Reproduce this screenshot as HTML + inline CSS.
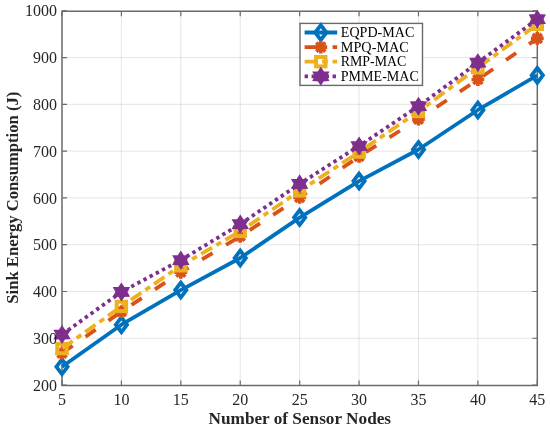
<!DOCTYPE html><html><head><meta charset="utf-8"><style>html,body{margin:0;padding:0;background:#fff;width:550px;height:432px;overflow:hidden}svg{display:block}</style></head><body><svg width="550" height="432" viewBox="0 0 550 432">
<rect width="550" height="432" fill="#fff"/>
<path d="M121.41 11.25V385.5M180.82 11.25V385.5M240.24 11.25V385.5M299.65 11.25V385.5M359.06 11.25V385.5M418.47 11.25V385.5M477.89 11.25V385.5" stroke="#262626" stroke-opacity="0.12" stroke-width="1" fill="none"/>
<path d="M62.0 338.27H537.3M62.0 291.49H537.3M62.0 244.71H537.3M62.0 197.93H537.3M62.0 151.14H537.3M62.0 104.36H537.3M62.0 57.58H537.3" stroke="#262626" stroke-opacity="0.12" stroke-width="1" fill="none"/>
<rect x="62.0" y="11.25" width="475.30" height="374.25" fill="none" stroke="#6a6a6a" stroke-width="1.5"/>
<path d="M62.00 385.5v-5M62.00 11.25v5M121.41 385.5v-5M121.41 11.25v5M180.82 385.5v-5M180.82 11.25v5M240.24 385.5v-5M240.24 11.25v5M299.65 385.5v-5M299.65 11.25v5M359.06 385.5v-5M359.06 11.25v5M418.47 385.5v-5M418.47 11.25v5M477.89 385.5v-5M477.89 11.25v5M537.30 385.5v-5M537.30 11.25v5M62.0 385.05h5M537.3 385.05h-5M62.0 338.27h5M537.3 338.27h-5M62.0 291.49h5M537.3 291.49h-5M62.0 244.71h5M537.3 244.71h-5M62.0 197.93h5M537.3 197.93h-5M62.0 151.14h5M537.3 151.14h-5M62.0 104.36h5M537.3 104.36h-5M62.0 57.58h5M537.3 57.58h-5M62.0 10.80h5M537.3 10.80h-5" stroke="#6a6a6a" stroke-width="1.2" fill="none"/>
<polyline points="62.00,366.79 121.41,324.68 180.82,290.07 240.24,258.02 299.65,217.56 359.06,181.07 418.47,149.49 477.89,109.96 537.30,75.34" fill="none" stroke="#0072BD" stroke-width="3.8" stroke-linejoin="round"/>
<path d="M62.00 359.39L67.60 366.79L62.00 374.19L56.40 366.79Z" fill="none" stroke="#0072BD" stroke-width="3.8"/>
<path d="M121.41 317.28L127.01 324.68L121.41 332.08L115.81 324.68Z" fill="none" stroke="#0072BD" stroke-width="3.8"/>
<path d="M180.82 282.67L186.42 290.07L180.82 297.47L175.22 290.07Z" fill="none" stroke="#0072BD" stroke-width="3.8"/>
<path d="M240.24 250.62L245.84 258.02L240.24 265.42L234.64 258.02Z" fill="none" stroke="#0072BD" stroke-width="3.8"/>
<path d="M299.65 210.16L305.25 217.56L299.65 224.96L294.05 217.56Z" fill="none" stroke="#0072BD" stroke-width="3.8"/>
<path d="M359.06 173.67L364.66 181.07L359.06 188.47L353.46 181.07Z" fill="none" stroke="#0072BD" stroke-width="3.8"/>
<path d="M418.47 142.09L424.07 149.49L418.47 156.89L412.87 149.49Z" fill="none" stroke="#0072BD" stroke-width="3.8"/>
<path d="M477.89 102.56L483.49 109.96L477.89 117.36L472.29 109.96Z" fill="none" stroke="#0072BD" stroke-width="3.8"/>
<path d="M537.30 67.94L542.90 75.34L537.30 82.74L531.70 75.34Z" fill="none" stroke="#0072BD" stroke-width="3.8"/>
<polyline points="62.00,353.22 121.41,311.59 180.82,272.29 240.24,236.27 299.65,197.44 359.06,156.46 418.47,119.08 477.89,79.55 537.30,38.38" fill="none" stroke="#D95319" stroke-width="3.8" stroke-linejoin="round" stroke-dasharray="12.3 15.67" stroke-dashoffset="-0.8"/>
<path d="M55.60 353.22L68.40 353.22M57.47 348.70L66.53 357.75M62.00 346.82L62.00 359.62M66.53 348.70L57.47 357.75" fill="none" stroke="#D95319" stroke-width="3.6"/>
<path d="M115.01 311.59L127.81 311.59M116.89 307.06L125.94 316.11M121.41 305.19L121.41 317.99M125.94 307.06L116.89 316.11" fill="none" stroke="#D95319" stroke-width="3.6"/>
<path d="M174.42 272.29L187.22 272.29M176.30 267.76L185.35 276.81M180.82 265.89L180.82 278.69M185.35 267.76L176.30 276.81" fill="none" stroke="#D95319" stroke-width="3.6"/>
<path d="M233.84 236.27L246.64 236.27M235.71 231.74L244.76 240.79M240.24 229.87L240.24 242.67M244.76 231.74L235.71 240.79" fill="none" stroke="#D95319" stroke-width="3.6"/>
<path d="M293.25 197.44L306.05 197.44M295.12 192.91L304.18 201.96M299.65 191.04L299.65 203.84M304.18 192.91L295.12 201.96" fill="none" stroke="#D95319" stroke-width="3.6"/>
<path d="M352.66 156.46L365.46 156.46M354.54 151.93L363.59 160.98M359.06 150.06L359.06 162.86M363.59 151.93L354.54 160.98" fill="none" stroke="#D95319" stroke-width="3.6"/>
<path d="M412.07 119.08L424.87 119.08M413.95 114.56L423.00 123.61M418.47 112.68L418.47 125.48M423.00 114.56L413.95 123.61" fill="none" stroke="#D95319" stroke-width="3.6"/>
<path d="M471.49 79.55L484.29 79.55M473.36 75.03L482.41 84.08M477.89 73.15L477.89 85.95M482.41 75.03L473.36 84.08" fill="none" stroke="#D95319" stroke-width="3.6"/>
<path d="M530.90 38.38L543.70 38.38M532.77 33.86L541.83 42.91M537.30 31.98L537.30 44.78M541.83 33.86L532.77 42.91" fill="none" stroke="#D95319" stroke-width="3.6"/>
<polyline points="62.00,348.54 121.41,306.44 180.82,265.74 240.24,231.36 299.65,190.89 359.06,152.06 418.47,111.50 477.89,67.57 537.30,24.35" fill="none" stroke="#EDB120" stroke-width="3.8" stroke-linejoin="round" stroke-dasharray="12.6 4.9 5.6 4.87" stroke-dashoffset="-0.5"/>
<rect x="57.30" y="343.84" width="9.40" height="9.40" fill="none" stroke="#EDB120" stroke-width="4"/>
<rect x="116.71" y="301.74" width="9.40" height="9.40" fill="none" stroke="#EDB120" stroke-width="4"/>
<rect x="176.12" y="261.04" width="9.40" height="9.40" fill="none" stroke="#EDB120" stroke-width="4"/>
<rect x="235.54" y="226.66" width="9.40" height="9.40" fill="none" stroke="#EDB120" stroke-width="4"/>
<rect x="294.95" y="186.19" width="9.40" height="9.40" fill="none" stroke="#EDB120" stroke-width="4"/>
<rect x="354.36" y="147.36" width="9.40" height="9.40" fill="none" stroke="#EDB120" stroke-width="4"/>
<rect x="413.77" y="106.80" width="9.40" height="9.40" fill="none" stroke="#EDB120" stroke-width="4"/>
<rect x="473.19" y="62.87" width="9.40" height="9.40" fill="none" stroke="#EDB120" stroke-width="4"/>
<rect x="532.60" y="19.65" width="9.40" height="9.40" fill="none" stroke="#EDB120" stroke-width="4"/>
<polyline points="62.00,334.51 121.41,291.94 180.82,260.13 240.24,224.10 299.65,183.87 359.06,145.98 418.47,106.22 477.89,62.71 537.30,19.20" fill="none" stroke="#7E2F8E" stroke-width="3.8" stroke-linejoin="round" stroke-dasharray="3.4 3.5925" stroke-dashoffset="-0.3"/>
<path d="M62.00 328.51L60.09 331.36L56.54 331.51L58.18 334.51L56.54 337.51L60.09 337.66L62.00 340.51L63.91 337.66L67.46 337.51L65.82 334.51L67.46 331.51L63.91 331.36Z" fill="#7E2F8E" stroke="#7E2F8E" stroke-width="3.9"/>
<path d="M121.41 285.94L119.50 288.79L115.96 288.94L117.59 291.94L115.96 294.94L119.50 295.09L121.41 297.94L123.32 295.09L126.87 294.94L125.23 291.94L126.87 288.94L123.32 288.79Z" fill="#7E2F8E" stroke="#7E2F8E" stroke-width="3.9"/>
<path d="M180.82 254.13L178.92 256.98L175.37 257.13L177.01 260.13L175.37 263.13L178.92 263.28L180.82 266.13L182.73 263.28L186.28 263.13L184.64 260.13L186.28 257.13L182.73 256.98Z" fill="#7E2F8E" stroke="#7E2F8E" stroke-width="3.9"/>
<path d="M240.24 218.10L238.33 220.95L234.78 221.10L236.42 224.10L234.78 227.10L238.33 227.25L240.24 230.10L242.15 227.25L245.69 227.10L244.06 224.10L245.69 221.10L242.15 220.95Z" fill="#7E2F8E" stroke="#7E2F8E" stroke-width="3.9"/>
<path d="M299.65 177.87L297.74 180.72L294.19 180.87L295.83 183.87L294.19 186.87L297.74 187.02L299.65 189.87L301.56 187.02L305.11 186.87L303.47 183.87L305.11 180.87L301.56 180.72Z" fill="#7E2F8E" stroke="#7E2F8E" stroke-width="3.9"/>
<path d="M359.06 139.98L357.15 142.83L353.61 142.98L355.24 145.98L353.61 148.98L357.15 149.13L359.06 151.98L360.97 149.13L364.52 148.98L362.88 145.98L364.52 142.98L360.97 142.83Z" fill="#7E2F8E" stroke="#7E2F8E" stroke-width="3.9"/>
<path d="M418.47 100.22L416.57 103.07L413.02 103.22L414.66 106.22L413.02 109.22L416.57 109.37L418.47 112.22L420.38 109.37L423.93 109.22L422.29 106.22L423.93 103.22L420.38 103.07Z" fill="#7E2F8E" stroke="#7E2F8E" stroke-width="3.9"/>
<path d="M477.89 56.71L475.98 59.56L472.43 59.71L474.07 62.71L472.43 65.71L475.98 65.86L477.89 68.71L479.80 65.86L483.34 65.71L481.71 62.71L483.34 59.71L479.80 59.56Z" fill="#7E2F8E" stroke="#7E2F8E" stroke-width="3.9"/>
<path d="M537.30 13.20L535.39 16.05L531.84 16.20L533.48 19.20L531.84 22.20L535.39 22.35L537.30 25.20L539.21 22.35L542.76 22.20L541.12 19.20L542.76 16.20L539.21 16.05Z" fill="#7E2F8E" stroke="#7E2F8E" stroke-width="3.9"/>
<text x="62.00" y="405" font-family="Liberation Serif, serif" font-size="16" fill="#262626" text-anchor="middle">5</text>
<text x="121.41" y="405" font-family="Liberation Serif, serif" font-size="16" fill="#262626" text-anchor="middle">10</text>
<text x="180.82" y="405" font-family="Liberation Serif, serif" font-size="16" fill="#262626" text-anchor="middle">15</text>
<text x="240.24" y="405" font-family="Liberation Serif, serif" font-size="16" fill="#262626" text-anchor="middle">20</text>
<text x="299.65" y="405" font-family="Liberation Serif, serif" font-size="16" fill="#262626" text-anchor="middle">25</text>
<text x="359.06" y="405" font-family="Liberation Serif, serif" font-size="16" fill="#262626" text-anchor="middle">30</text>
<text x="418.47" y="405" font-family="Liberation Serif, serif" font-size="16" fill="#262626" text-anchor="middle">35</text>
<text x="477.89" y="405" font-family="Liberation Serif, serif" font-size="16" fill="#262626" text-anchor="middle">40</text>
<text x="537.30" y="405" font-family="Liberation Serif, serif" font-size="16" fill="#262626" text-anchor="middle">45</text>
<text x="57.1" y="390.70" font-family="Liberation Serif, serif" font-size="16" fill="#262626" text-anchor="end">200</text>
<text x="57.1" y="343.92" font-family="Liberation Serif, serif" font-size="16" fill="#262626" text-anchor="end">300</text>
<text x="57.1" y="297.14" font-family="Liberation Serif, serif" font-size="16" fill="#262626" text-anchor="end">400</text>
<text x="57.1" y="250.36" font-family="Liberation Serif, serif" font-size="16" fill="#262626" text-anchor="end">500</text>
<text x="57.1" y="203.57" font-family="Liberation Serif, serif" font-size="16" fill="#262626" text-anchor="end">600</text>
<text x="57.1" y="156.79" font-family="Liberation Serif, serif" font-size="16" fill="#262626" text-anchor="end">700</text>
<text x="57.1" y="110.01" font-family="Liberation Serif, serif" font-size="16" fill="#262626" text-anchor="end">800</text>
<text x="57.1" y="63.23" font-family="Liberation Serif, serif" font-size="16" fill="#262626" text-anchor="end">900</text>
<text x="57.1" y="16.45" font-family="Liberation Serif, serif" font-size="16" fill="#262626" text-anchor="end">1000</text>
<text x="299.8" y="424.2" font-family="Liberation Serif, serif" font-size="16.5" font-weight="bold" fill="#262626" text-anchor="middle" textLength="182.5" lengthAdjust="spacingAndGlyphs">Number of Sensor Nodes</text>
<text transform="translate(17.5 197.7) rotate(-90)" x="0" y="0" font-family="Liberation Serif, serif" font-size="16.5" font-weight="bold" fill="#262626" text-anchor="middle" textLength="212" lengthAdjust="spacingAndGlyphs">Sink Energy Consumption (J)</text>
<rect x="300" y="23.4" width="122.5" height="62.00000000000001" fill="#fff" stroke="#6a6a6a" stroke-width="1.4"/>
<path d="M304.6 32.5H337.2" stroke="#0072BD" stroke-width="3.8" fill="none"/>
<path d="M320.80 25.10L326.40 32.50L320.80 39.90L315.20 32.50Z" fill="none" stroke="#0072BD" stroke-width="3.8"/>
<text x="340.8" y="37.4" font-family="Liberation Serif, serif" font-size="14" fill="#000" textLength="73.5" lengthAdjust="spacingAndGlyphs">EQPD-MAC</text>
<path d="M304.6 47.1H337.2" stroke="#D95319" stroke-width="3.8" stroke-dasharray="12.3 15.67" fill="none"/>
<path d="M314.40 47.10L327.20 47.10M316.27 42.57L325.33 51.63M320.80 40.70L320.80 53.50M325.33 42.57L316.27 51.63" fill="none" stroke="#D95319" stroke-width="3.6"/>
<text x="340.8" y="51.9" font-family="Liberation Serif, serif" font-size="14" fill="#000" textLength="68" lengthAdjust="spacingAndGlyphs">MPQ-MAC</text>
<path d="M304.6 61.7H337.2" stroke="#EDB120" stroke-width="3.8" stroke-dasharray="12.6 4.9 5.6 4.87" fill="none"/>
<rect x="316.10" y="57.00" width="9.40" height="9.40" fill="none" stroke="#EDB120" stroke-width="4"/>
<text x="340.8" y="66.3" font-family="Liberation Serif, serif" font-size="14" fill="#000" textLength="65.5" lengthAdjust="spacingAndGlyphs">RMP-MAC</text>
<path d="M304.6 76.3H337.2" stroke="#7E2F8E" stroke-width="3.8" stroke-dasharray="3.4 3.5925" fill="none"/>
<path d="M320.80 70.30L318.89 73.15L315.34 73.30L316.98 76.30L315.34 79.30L318.89 79.45L320.80 82.30L322.71 79.45L326.26 79.30L324.62 76.30L326.26 73.30L322.71 73.15Z" fill="#7E2F8E" stroke="#7E2F8E" stroke-width="3.9"/>
<text x="340.8" y="80.9" font-family="Liberation Serif, serif" font-size="14" fill="#000" textLength="78" lengthAdjust="spacingAndGlyphs">PMME-MAC</text>
</svg></body></html>
